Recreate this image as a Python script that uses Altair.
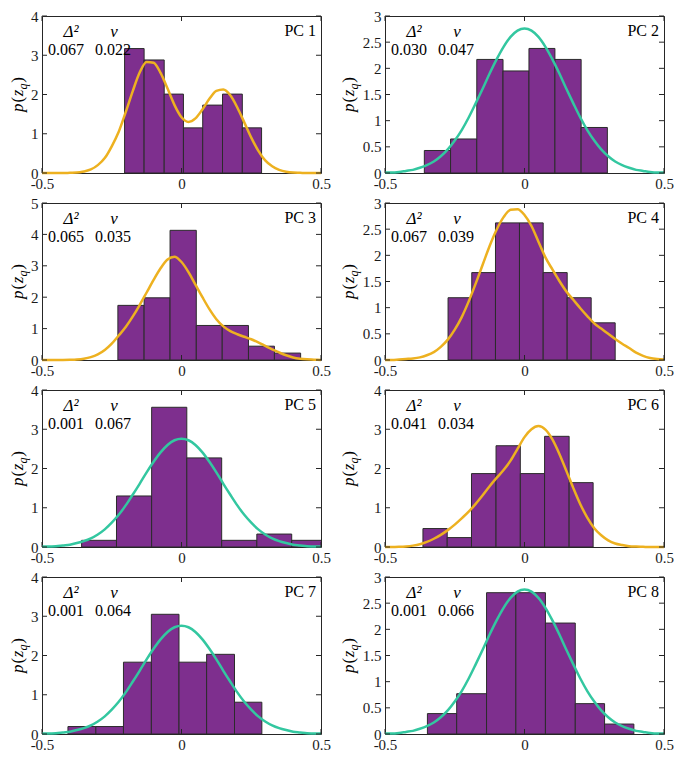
import altair as alt
import pandas as pd

FONT = "Liberation Serif"
PURPLE = "#7E2F8E"
ORANGE = "#EDB120"
GREEN = "#33C7A0"
FRAME = "#262626"
BAR_EDGE = "#2b2b2b"

W, H = 279, 157

# ---------------- data ----------------
panel_names = ["PC 1", "PC 2", "PC 3", "PC 4", "PC 5", "PC 6", "PC 7", "PC 8"]
delta2_values = ["0.067", "0.030", "0.065", "0.067", "0.001", "0.041", "0.001", "0.001"]
v_values = ["0.022", "0.047", "0.035", "0.039", "0.067", "0.034", "0.064", "0.066"]

edges_pc1 = [-0.204, -0.134, -0.062, 0.007, 0.076, 0.147, 0.218, 0.287]
edges_pc2 = [-0.359, -0.265, -0.171, -0.077, 0.016, 0.109, 0.203, 0.297]
edges_pc3 = [-0.228, -0.134, -0.041, 0.053, 0.146, 0.240, 0.333, 0.427]
edges_pc4 = [-0.274, -0.189, -0.104, -0.018, 0.067, 0.153, 0.239, 0.325]
edges_pc5 = [-0.358, -0.233, -0.107, 0.019, 0.144, 0.270, 0.395, 0.521]
edges_pc6 = [-0.364, -0.277, -0.190, -0.102, -0.015, 0.072, 0.160, 0.246]
edges_pc7 = [-0.407, -0.307, -0.208, -0.108, -0.009, 0.090, 0.190, 0.288]
edges_pc8 = [-0.348, -0.243, -0.136, -0.031, 0.075, 0.182, 0.287, 0.392]

heights_pc1 = [3.17, 2.88, 2.01, 1.15, 1.73, 2.01, 1.15]
heights_pc2 = [0.43, 0.65, 2.17, 1.95, 2.38, 2.17, 0.87]
heights_pc3 = [1.74, 1.98, 4.13, 1.10, 1.10, 0.44, 0.22]
heights_pc4 = [1.19, 1.67, 2.62, 2.62, 1.67, 1.19, 0.71]
heights_pc5 = [0.17, 1.30, 3.56, 2.27, 0.17, 0.33, 0.17]
heights_pc6 = [0.47, 0.24, 1.87, 2.58, 1.87, 2.82, 1.64]
heights_pc7 = [0.19, 0.19, 1.83, 3.05, 1.83, 2.03, 0.81]
heights_pc8 = [0.39, 0.77, 2.70, 2.70, 2.12, 0.58, 0.19]

curve_x = [-0.5, -0.475, -0.45, -0.425, -0.4, -0.375, -0.35, -0.325, -0.3, -0.275,
           -0.25, -0.225, -0.2, -0.175, -0.15, -0.125, -0.1, -0.075, -0.05, -0.025,
           0.0, 0.025, 0.05, 0.075, 0.1, 0.125, 0.15, 0.175, 0.2, 0.225,
           0.25, 0.275, 0.3, 0.325, 0.35, 0.375, 0.4, 0.425, 0.45, 0.475, 0.5]

curve_pc1 = [0, 0, 0, 0, 0.005, 0.01, 0.04, 0.09, 0.20, 0.38,
             0.68, 1.05, 1.55, 2.08, 2.56, 2.83, 2.81, 2.55, 2.15, 1.73,
             1.42, 1.30, 1.39, 1.62, 1.89, 2.09, 2.13, 1.98, 1.67, 1.29,
             0.90, 0.57, 0.32, 0.17, 0.08, 0.03, 0.01, 0.005, 0, 0, 0]
curve_pc3 = [0, 0, 0, 0, 0.005, 0.015, 0.04, 0.09, 0.18, 0.32,
             0.52, 0.78, 1.05, 1.38, 1.75, 2.15, 2.55, 2.92, 3.20, 3.29,
             3.12, 2.80, 2.40, 2.00, 1.62, 1.30, 1.07, 0.92, 0.82, 0.74,
             0.66, 0.56, 0.45, 0.34, 0.24, 0.15, 0.08, 0.04, 0.02, 0.01, 0]
curve_pc4 = [0.00, 0.00, 0.01, 0.02, 0.03, 0.05, 0.09, 0.15, 0.25, 0.39,
             0.58, 0.82, 1.12, 1.46, 1.82, 2.18, 2.49, 2.73, 2.87, 2.88,
             2.77, 2.56, 2.26, 1.96, 1.73, 1.51, 1.31, 1.15, 0.99, 0.84,
             0.70, 0.60, 0.50, 0.40, 0.31, 0.23, 0.14, 0.08, 0.04, 0.02, 0.01]
curve_pc6 = [0, 0, 0.005, 0.015, 0.035, 0.07, 0.13, 0.21, 0.31, 0.43,
             0.57, 0.73, 0.90, 1.10, 1.32, 1.55, 1.76, 1.96, 2.20, 2.50,
             2.80, 3.00, 3.08, 2.99, 2.74, 2.37, 1.94, 1.50, 1.09, 0.75,
             0.48, 0.30, 0.17, 0.09, 0.05, 0.02, 0.01, 0.005, 0, 0, 0]
curve_normal = [0.01, 0.01, 0.02, 0.04, 0.06, 0.10, 0.15, 0.22, 0.32, 0.45,
                0.62, 0.82, 1.06, 1.33, 1.61, 1.90, 2.17, 2.41, 2.60, 2.72,
                2.76, 2.72, 2.60, 2.41, 2.17, 1.90, 1.61, 1.33, 1.06, 0.82,
                0.62, 0.45, 0.32, 0.22, 0.15, 0.10, 0.06, 0.04, 0.02, 0.01, 0.01]

x_ticks = [-0.5, 0, 0.5]
ticks_3 = [0, 0.5, 1, 1.5, 2, 2.5, 3]
ticks_4 = [0, 1, 2, 3, 4]
ticks_5 = [0, 1, 2, 3, 4, 5]
y_max = [4, 3, 5, 3, 4, 4, 4, 3]

panel_edges = [edges_pc1, edges_pc2, edges_pc3, edges_pc4, edges_pc5, edges_pc6, edges_pc7, edges_pc8]
panel_heights = [heights_pc1, heights_pc2, heights_pc3, heights_pc4,
                 heights_pc5, heights_pc6, heights_pc7, heights_pc8]
panel_curves = [curve_pc1, curve_normal, curve_pc3, curve_pc4,
                curve_normal, curve_pc6, curve_normal, curve_normal]
panel_y_ticks = [ticks_4, ticks_3, ticks_5, ticks_3, ticks_4, ticks_4, ticks_4, ticks_3]

# styles
curve_colors = [ORANGE, GREEN, ORANGE, ORANGE, GREEN, ORANGE, GREEN, GREEN]


def text_layer(s, x, y, size=16, style="normal", align="center", angle=0):
    return alt.Chart(pd.DataFrame({"label": [s]})).mark_text(
        font=FONT, fontSize=size, fontStyle=style, align=align,
        baseline="alphabetic", angle=angle, color="black"
    ).encode(text="label:N", x=alt.value(x), y=alt.value(y))


def panel(i):
    col = i % 2
    xs = alt.Scale(domain=[-0.5, 0.5], nice=False, zero=False)
    ys = alt.Scale(domain=[0, y_max[i]], nice=False, zero=True)
    x_axis = alt.Axis(values=x_ticks, format="~g", title=None, ticks=False, domain=False,
                      grid=False, labelFlush=False, labelOverlap=False, labelPadding=3,
                      labelExpr="replace(datum.label, '\u2212', '-')")
    y_axis = alt.Axis(values=panel_y_ticks[i], format="~g", title=None, ticks=False,
                      domain=False, grid=False, labelFlush=False, labelOverlap=False,
                      labelPadding=4)

    bars_df = pd.DataFrame({"left": panel_edges[i][:-1], "right": panel_edges[i][1:],
                            "density": panel_heights[i]})
    curve_df = pd.DataFrame({"z": curve_x, "p": panel_curves[i]})
    xt_df = pd.DataFrame({"t": x_ticks})
    yt_df = pd.DataFrame({"t": panel_y_ticks[i]})

    bars = alt.Chart(bars_df).mark_bar(
        fill=PURPLE, stroke=BAR_EDGE, strokeWidth=1, clip=True, opacity=1
    ).encode(
        x=alt.X("left:Q", scale=xs, axis=x_axis),
        x2="right:Q",
        y=alt.Y("density:Q", scale=ys, axis=y_axis),
        y2=alt.datum(0),
    )
    curve = alt.Chart(curve_df).mark_line(
        color=curve_colors[i], strokeWidth=2.5, interpolate="monotone"
    ).encode(
        x=alt.X("z:Q", scale=xs, axis=x_axis),
        y=alt.Y("p:Q", scale=ys, axis=y_axis),
    )
    tick_style = dict(color=FRAME, strokeWidth=1)
    xt_bottom = alt.Chart(xt_df).mark_rule(**tick_style).encode(
        x=alt.X("t:Q", scale=xs, axis=x_axis), y=alt.value(H), y2=alt.value(H - 5))
    xt_top = alt.Chart(xt_df).mark_rule(**tick_style).encode(
        x=alt.X("t:Q", scale=xs, axis=x_axis), y=alt.value(0), y2=alt.value(5))
    yt_left = alt.Chart(yt_df).mark_rule(**tick_style).encode(
        y=alt.Y("t:Q", scale=ys, axis=y_axis), x=alt.value(0), x2=alt.value(5))
    yt_right = alt.Chart(yt_df).mark_rule(**tick_style).encode(
        y=alt.Y("t:Q", scale=ys, axis=y_axis), x=alt.value(W), x2=alt.value(W - 5))

    # annotations
    texts = [
        text_layer("\u0394\u00b2", 29, 21, size=17, style="italic"),
        text_layer("v", 72, 21, size=17, style="italic"),
        text_layer(delta2_values[i], 24, 39),
        text_layer(v_values[i], 71, 39),
        text_layer(panel_names[i], W - 5, 20, align="right"),
    ]
    # y title p(z_q), rotated
    bx = -19 if col == 0 else -31
    y0 = H / 2 + 17.5
    texts += [
        text_layer("p", bx, y0, size=17, style="italic", align="left", angle=270),
        text_layer("(", bx, y0 - 9.5, size=17, align="left", angle=270),
        text_layer("z", bx, y0 - 15.8, size=17, style="italic", align="left", angle=270),
        text_layer("q", bx + 4, y0 - 22.6, size=12, style="italic", align="left", angle=270),
        text_layer(")", bx, y0 - 29.2, size=17, align="left", angle=270),
    ]

    return alt.layer(bars, curve, xt_bottom, xt_top, yt_left, yt_right, *texts).properties(
        width=W, height=H)


rows = [alt.hconcat(panel(2 * r), panel(2 * r + 1), spacing=64, bounds="flush") for r in range(4)]
chart = alt.vconcat(*rows, spacing=3).properties(
    padding={"left": 0, "top": 0, "right": 0, "bottom": 0}
).configure_view(
    stroke=FRAME, strokeWidth=1
).configure_axis(
    labelFont=FONT, labelFontSize=15, labelColor="#1a1a1a"
)

chart.save("out.html", embed_options={"renderer": "svg", "actions": False})
